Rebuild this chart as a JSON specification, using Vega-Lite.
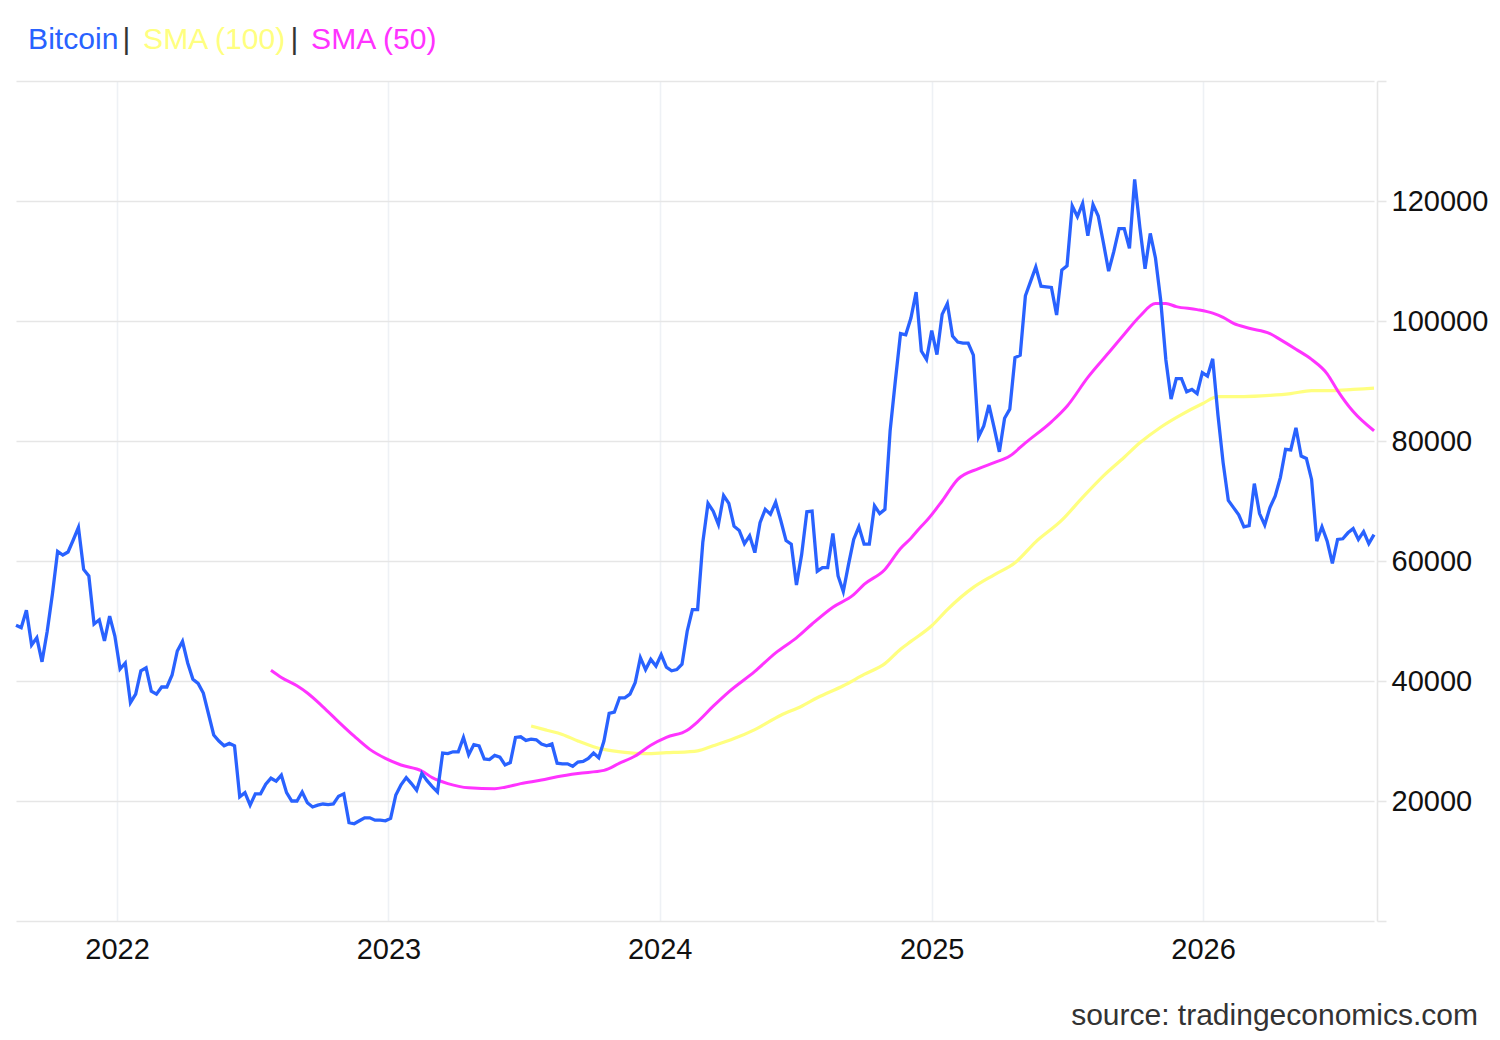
{
  "$schema": "https://vega.github.io/schema/vega-lite/v6.json",
  "width": 1358,
  "height": 840,
  "autosize": {"type": "none"},
  "padding": {"left": 16, "top": 81, "right": 126, "bottom": 119},
  "background": "white",
  "config": {"view": {"stroke": null}, "font": "Liberation Sans"},
  "title": {
    "text": "source: tradingeconomics.com",
    "orient": "bottom",
    "anchor": "end",
    "frame": "group",
    "dx": 104,
    "offset": 37,
    "fontSize": 30,
    "fontWeight": "normal",
    "font": "Liberation Sans",
    "color": "#333333"
  },
  "datasets": {
    "bitcoin": [
      {"date": "2021-08-18", "value": 49300}, {"date": "2021-08-25", "value": 48900}, {"date": "2021-09-01", "value": 51800},
      {"date": "2021-09-08", "value": 46000}, {"date": "2021-09-15", "value": 47200}, {"date": "2021-09-22", "value": 43200},
      {"date": "2021-09-29", "value": 48300}, {"date": "2021-10-06", "value": 54500}, {"date": "2021-10-13", "value": 61600},
      {"date": "2021-10-20", "value": 61000}, {"date": "2021-10-27", "value": 61500}, {"date": "2021-11-03", "value": 63500},
      {"date": "2021-11-10", "value": 65600}, {"date": "2021-11-17", "value": 58600}, {"date": "2021-11-24", "value": 57500},
      {"date": "2021-12-01", "value": 49500}, {"date": "2021-12-08", "value": 50200}, {"date": "2021-12-15", "value": 46700},
      {"date": "2021-12-22", "value": 50800}, {"date": "2021-12-29", "value": 47500}, {"date": "2022-01-05", "value": 42000},
      {"date": "2022-01-12", "value": 43000}, {"date": "2022-01-19", "value": 36400}, {"date": "2022-01-26", "value": 37800},
      {"date": "2022-02-02", "value": 41700}, {"date": "2022-02-09", "value": 42200}, {"date": "2022-02-16", "value": 38300},
      {"date": "2022-02-23", "value": 37800}, {"date": "2022-03-02", "value": 39000}, {"date": "2022-03-09", "value": 39000},
      {"date": "2022-03-16", "value": 41000}, {"date": "2022-03-23", "value": 45000}, {"date": "2022-03-30", "value": 46600},
      {"date": "2022-04-06", "value": 43000}, {"date": "2022-04-13", "value": 40300}, {"date": "2022-04-20", "value": 39600},
      {"date": "2022-04-27", "value": 38000}, {"date": "2022-05-04", "value": 34500}, {"date": "2022-05-11", "value": 31000},
      {"date": "2022-05-18", "value": 30000}, {"date": "2022-05-25", "value": 29200}, {"date": "2022-06-01", "value": 29600},
      {"date": "2022-06-08", "value": 29200}, {"date": "2022-06-15", "value": 20700}, {"date": "2022-06-22", "value": 21400},
      {"date": "2022-06-29", "value": 19300}, {"date": "2022-07-06", "value": 21200}, {"date": "2022-07-13", "value": 21200},
      {"date": "2022-07-20", "value": 22800}, {"date": "2022-07-27", "value": 23800}, {"date": "2022-08-03", "value": 23300},
      {"date": "2022-08-10", "value": 24300}, {"date": "2022-08-17", "value": 21400}, {"date": "2022-08-24", "value": 20000},
      {"date": "2022-08-31", "value": 20000}, {"date": "2022-09-07", "value": 21500}, {"date": "2022-09-14", "value": 19700},
      {"date": "2022-09-21", "value": 19000}, {"date": "2022-09-28", "value": 19300}, {"date": "2022-10-05", "value": 19500},
      {"date": "2022-10-12", "value": 19400}, {"date": "2022-10-19", "value": 19500}, {"date": "2022-10-26", "value": 20800},
      {"date": "2022-11-02", "value": 21200}, {"date": "2022-11-09", "value": 16400}, {"date": "2022-11-16", "value": 16200},
      {"date": "2022-11-23", "value": 16700}, {"date": "2022-11-30", "value": 17200}, {"date": "2022-12-07", "value": 17200},
      {"date": "2022-12-14", "value": 16800}, {"date": "2022-12-21", "value": 16800}, {"date": "2022-12-28", "value": 16700},
      {"date": "2023-01-04", "value": 17100}, {"date": "2023-01-11", "value": 21000}, {"date": "2023-01-18", "value": 22700},
      {"date": "2023-01-25", "value": 23900}, {"date": "2023-02-01", "value": 22900}, {"date": "2023-02-08", "value": 21800},
      {"date": "2023-02-15", "value": 24600}, {"date": "2023-02-22", "value": 23400}, {"date": "2023-03-01", "value": 22400},
      {"date": "2023-03-08", "value": 21500}, {"date": "2023-03-15", "value": 28000}, {"date": "2023-03-22", "value": 27900},
      {"date": "2023-03-29", "value": 28200}, {"date": "2023-04-05", "value": 28200}, {"date": "2023-04-12", "value": 30600},
      {"date": "2023-04-19", "value": 27700}, {"date": "2023-04-26", "value": 29400}, {"date": "2023-05-03", "value": 29200},
      {"date": "2023-05-10", "value": 27000}, {"date": "2023-05-17", "value": 26900}, {"date": "2023-05-24", "value": 27600},
      {"date": "2023-05-31", "value": 27300}, {"date": "2023-06-07", "value": 26000}, {"date": "2023-06-14", "value": 26400},
      {"date": "2023-06-21", "value": 30600}, {"date": "2023-06-28", "value": 30700}, {"date": "2023-07-05", "value": 30100},
      {"date": "2023-07-12", "value": 30300}, {"date": "2023-07-19", "value": 30200}, {"date": "2023-07-26", "value": 29500},
      {"date": "2023-08-02", "value": 29200}, {"date": "2023-08-09", "value": 29500}, {"date": "2023-08-16", "value": 26300},
      {"date": "2023-08-23", "value": 26200}, {"date": "2023-08-30", "value": 26200}, {"date": "2023-09-06", "value": 25800},
      {"date": "2023-09-13", "value": 26500}, {"date": "2023-09-20", "value": 26600}, {"date": "2023-09-27", "value": 27100},
      {"date": "2023-10-04", "value": 28000}, {"date": "2023-10-11", "value": 27200}, {"date": "2023-10-18", "value": 30000},
      {"date": "2023-10-25", "value": 34600}, {"date": "2023-11-01", "value": 34800}, {"date": "2023-11-08", "value": 37200},
      {"date": "2023-11-15", "value": 37200}, {"date": "2023-11-22", "value": 37800}, {"date": "2023-11-29", "value": 39700},
      {"date": "2023-12-06", "value": 43900}, {"date": "2023-12-13", "value": 41900}, {"date": "2023-12-20", "value": 43600},
      {"date": "2023-12-27", "value": 42500}, {"date": "2024-01-03", "value": 44400}, {"date": "2024-01-10", "value": 42300},
      {"date": "2024-01-17", "value": 41700}, {"date": "2024-01-24", "value": 41900}, {"date": "2024-01-31", "value": 42800},
      {"date": "2024-02-07", "value": 48300}, {"date": "2024-02-14", "value": 51900}, {"date": "2024-02-21", "value": 51900},
      {"date": "2024-02-28", "value": 63100}, {"date": "2024-03-06", "value": 69600}, {"date": "2024-03-13", "value": 68300},
      {"date": "2024-03-20", "value": 66100}, {"date": "2024-03-27", "value": 70900}, {"date": "2024-04-03", "value": 69600},
      {"date": "2024-04-10", "value": 65800}, {"date": "2024-04-17", "value": 65100}, {"date": "2024-04-24", "value": 62900},
      {"date": "2024-05-01", "value": 64200}, {"date": "2024-05-08", "value": 61400}, {"date": "2024-05-15", "value": 66400},
      {"date": "2024-05-22", "value": 68600}, {"date": "2024-05-29", "value": 67800}, {"date": "2024-06-05", "value": 69800},
      {"date": "2024-06-12", "value": 66700}, {"date": "2024-06-19", "value": 63400}, {"date": "2024-06-26", "value": 62800},
      {"date": "2024-07-03", "value": 56000}, {"date": "2024-07-10", "value": 61100}, {"date": "2024-07-17", "value": 68200},
      {"date": "2024-07-24", "value": 68300}, {"date": "2024-07-31", "value": 58300}, {"date": "2024-08-07", "value": 58900},
      {"date": "2024-08-14", "value": 58900}, {"date": "2024-08-21", "value": 64600}, {"date": "2024-08-28", "value": 57500},
      {"date": "2024-09-04", "value": 54900}, {"date": "2024-09-11", "value": 59400}, {"date": "2024-09-18", "value": 63600},
      {"date": "2024-09-25", "value": 65700}, {"date": "2024-10-02", "value": 62800}, {"date": "2024-10-09", "value": 62800},
      {"date": "2024-10-16", "value": 69200}, {"date": "2024-10-23", "value": 67900}, {"date": "2024-10-30", "value": 68600},
      {"date": "2024-11-06", "value": 81700}, {"date": "2024-11-13", "value": 90000}, {"date": "2024-11-20", "value": 97900},
      {"date": "2024-11-27", "value": 97700}, {"date": "2024-12-04", "value": 100500}, {"date": "2024-12-11", "value": 104800},
      {"date": "2024-12-18", "value": 95000}, {"date": "2024-12-25", "value": 93600}, {"date": "2025-01-01", "value": 98400},
      {"date": "2025-01-08", "value": 94400}, {"date": "2025-01-15", "value": 101100}, {"date": "2025-01-22", "value": 102900},
      {"date": "2025-01-29", "value": 97500}, {"date": "2025-02-05", "value": 96500}, {"date": "2025-02-12", "value": 96300},
      {"date": "2025-02-19", "value": 96300}, {"date": "2025-02-26", "value": 94300}, {"date": "2025-03-05", "value": 80700},
      {"date": "2025-03-12", "value": 82500}, {"date": "2025-03-19", "value": 86000}, {"date": "2025-03-26", "value": 82200},
      {"date": "2025-04-02", "value": 78200}, {"date": "2025-04-09", "value": 83800}, {"date": "2025-04-16", "value": 85300},
      {"date": "2025-04-23", "value": 93900}, {"date": "2025-04-30", "value": 94300}, {"date": "2025-05-07", "value": 104200},
      {"date": "2025-05-14", "value": 106600}, {"date": "2025-05-21", "value": 109000}, {"date": "2025-05-28", "value": 105800},
      {"date": "2025-06-04", "value": 105700}, {"date": "2025-06-11", "value": 105600}, {"date": "2025-06-18", "value": 101000},
      {"date": "2025-06-25", "value": 108500}, {"date": "2025-07-02", "value": 109200}, {"date": "2025-07-09", "value": 119200},
      {"date": "2025-07-16", "value": 117400}, {"date": "2025-07-23", "value": 119600}, {"date": "2025-07-30", "value": 114200},
      {"date": "2025-08-06", "value": 119400}, {"date": "2025-08-13", "value": 117500}, {"date": "2025-08-20", "value": 113000},
      {"date": "2025-08-27", "value": 108300}, {"date": "2025-09-03", "value": 111600}, {"date": "2025-09-10", "value": 115400},
      {"date": "2025-09-17", "value": 115400}, {"date": "2025-09-24", "value": 112100}, {"date": "2025-10-01", "value": 123600},
      {"date": "2025-10-08", "value": 115600}, {"date": "2025-10-15", "value": 108700}, {"date": "2025-10-22", "value": 114600},
      {"date": "2025-10-29", "value": 110500}, {"date": "2025-11-05", "value": 103500}, {"date": "2025-11-12", "value": 93500},
      {"date": "2025-11-19", "value": 87000}, {"date": "2025-11-26", "value": 90400}, {"date": "2025-12-03", "value": 90400},
      {"date": "2025-12-10", "value": 88200}, {"date": "2025-12-17", "value": 88600}, {"date": "2025-12-24", "value": 87900},
      {"date": "2025-12-31", "value": 91400}, {"date": "2026-01-07", "value": 90800}, {"date": "2026-01-14", "value": 93700},
      {"date": "2026-01-21", "value": 84400}, {"date": "2026-01-28", "value": 76400}, {"date": "2026-02-04", "value": 70100},
      {"date": "2026-02-11", "value": 68900}, {"date": "2026-02-18", "value": 67700}, {"date": "2026-02-25", "value": 65700},
      {"date": "2026-03-04", "value": 65900}, {"date": "2026-03-11", "value": 72900}, {"date": "2026-03-18", "value": 67900},
      {"date": "2026-03-25", "value": 66000}, {"date": "2026-04-01", "value": 68900}, {"date": "2026-04-08", "value": 70800},
      {"date": "2026-04-15", "value": 73900}, {"date": "2026-04-22", "value": 78600}, {"date": "2026-04-29", "value": 78500},
      {"date": "2026-05-06", "value": 82200}, {"date": "2026-05-13", "value": 77500}, {"date": "2026-05-20", "value": 77100},
      {"date": "2026-05-27", "value": 73600}, {"date": "2026-06-03", "value": 63300}, {"date": "2026-06-10", "value": 65700},
      {"date": "2026-06-17", "value": 63300}, {"date": "2026-06-24", "value": 59600}, {"date": "2026-07-01", "value": 63600},
      {"date": "2026-07-08", "value": 63700}, {"date": "2026-07-15", "value": 64700}, {"date": "2026-07-22", "value": 65400},
      {"date": "2026-07-29", "value": 63600}, {"date": "2026-08-05", "value": 64900}, {"date": "2026-08-12", "value": 62900},
      {"date": "2026-08-19", "value": 64400}
    ],
    "sma50": [
      {"date": "2022-07-27", "value": 41800}, {"date": "2022-08-10", "value": 40600}, {"date": "2022-08-31", "value": 39200},
      {"date": "2022-09-14", "value": 38000}, {"date": "2022-10-05", "value": 35700}, {"date": "2022-10-26", "value": 33200},
      {"date": "2022-11-16", "value": 30800}, {"date": "2022-12-07", "value": 28600}, {"date": "2022-12-28", "value": 27100},
      {"date": "2023-01-18", "value": 26000}, {"date": "2023-02-15", "value": 25000}, {"date": "2023-03-01", "value": 23900},
      {"date": "2023-03-22", "value": 22900}, {"date": "2023-04-19", "value": 22200}, {"date": "2023-05-24", "value": 22050},
      {"date": "2023-06-07", "value": 22300}, {"date": "2023-06-28", "value": 22900}, {"date": "2023-07-26", "value": 23500},
      {"date": "2023-08-16", "value": 24050}, {"date": "2023-09-13", "value": 24600}, {"date": "2023-10-18", "value": 25100},
      {"date": "2023-11-08", "value": 26300}, {"date": "2023-11-29", "value": 27500}, {"date": "2023-12-20", "value": 29300},
      {"date": "2024-01-10", "value": 30600}, {"date": "2024-02-07", "value": 31800}, {"date": "2024-02-21", "value": 33200},
      {"date": "2024-03-13", "value": 35800}, {"date": "2024-04-03", "value": 38200}, {"date": "2024-05-08", "value": 41600},
      {"date": "2024-06-05", "value": 44700}, {"date": "2024-07-03", "value": 47200}, {"date": "2024-07-24", "value": 49500},
      {"date": "2024-08-21", "value": 52300}, {"date": "2024-09-18", "value": 54400}, {"date": "2024-10-02", "value": 56100},
      {"date": "2024-10-30", "value": 58600}, {"date": "2024-11-20", "value": 62100}, {"date": "2024-12-04", "value": 63800},
      {"date": "2024-12-18", "value": 65800}, {"date": "2024-12-25", "value": 66700}, {"date": "2025-01-15", "value": 70000},
      {"date": "2025-02-05", "value": 73600}, {"date": "2025-03-05", "value": 75400}, {"date": "2025-03-26", "value": 76400},
      {"date": "2025-04-16", "value": 77500}, {"date": "2025-05-07", "value": 79700}, {"date": "2025-06-11", "value": 83200},
      {"date": "2025-07-02", "value": 85800}, {"date": "2025-07-30", "value": 90600}, {"date": "2025-08-27", "value": 94700},
      {"date": "2025-09-17", "value": 97800}, {"date": "2025-10-08", "value": 100800}, {"date": "2025-10-29", "value": 102900},
      {"date": "2025-11-12", "value": 102900}, {"date": "2025-11-26", "value": 102400}, {"date": "2025-12-24", "value": 101900},
      {"date": "2026-01-14", "value": 101300}, {"date": "2026-01-28", "value": 100600}, {"date": "2026-02-11", "value": 99600},
      {"date": "2026-03-04", "value": 98800}, {"date": "2026-04-01", "value": 97900}, {"date": "2026-04-15", "value": 96900},
      {"date": "2026-05-06", "value": 95300}, {"date": "2026-05-27", "value": 93600}, {"date": "2026-06-17", "value": 91200},
      {"date": "2026-07-01", "value": 88400}, {"date": "2026-07-22", "value": 84900}, {"date": "2026-08-19", "value": 81700}
    ],
    "sma100": [
      {"date": "2023-07-12", "value": 32500}, {"date": "2023-08-02", "value": 31800}, {"date": "2023-08-23", "value": 31100},
      {"date": "2023-09-13", "value": 30000}, {"date": "2023-10-04", "value": 29050}, {"date": "2023-10-18", "value": 28600},
      {"date": "2023-11-15", "value": 28100}, {"date": "2023-12-13", "value": 27900}, {"date": "2024-01-10", "value": 28050},
      {"date": "2024-02-07", "value": 28200}, {"date": "2024-02-21", "value": 28350}, {"date": "2024-03-13", "value": 29200},
      {"date": "2024-04-10", "value": 30400}, {"date": "2024-05-08", "value": 31900}, {"date": "2024-06-12", "value": 34300},
      {"date": "2024-07-10", "value": 35800}, {"date": "2024-07-31", "value": 37200}, {"date": "2024-09-04", "value": 39200},
      {"date": "2024-10-02", "value": 41100}, {"date": "2024-10-30", "value": 42900}, {"date": "2024-11-20", "value": 45300},
      {"date": "2024-12-04", "value": 46600}, {"date": "2025-01-01", "value": 49200}, {"date": "2025-01-22", "value": 51900},
      {"date": "2025-02-26", "value": 55600}, {"date": "2025-03-26", "value": 57700}, {"date": "2025-04-23", "value": 59700},
      {"date": "2025-05-21", "value": 63200}, {"date": "2025-06-25", "value": 66800}, {"date": "2025-07-23", "value": 70600},
      {"date": "2025-08-20", "value": 74200}, {"date": "2025-09-17", "value": 77300}, {"date": "2025-10-08", "value": 79700},
      {"date": "2025-11-05", "value": 82300}, {"date": "2025-12-03", "value": 84400}, {"date": "2025-12-31", "value": 86200},
      {"date": "2026-01-21", "value": 87400}, {"date": "2026-02-25", "value": 87400}, {"date": "2026-04-01", "value": 87600},
      {"date": "2026-04-29", "value": 87900}, {"date": "2026-05-27", "value": 88400}, {"date": "2026-06-24", "value": 88400},
      {"date": "2026-07-22", "value": 88600}, {"date": "2026-08-19", "value": 88800}
    ]
  },
  "encoding": {
    "x": {
      "field": "date",
      "type": "temporal",
      "title": null,
      "scale": {"nice": false},
      "axis": {
        "format": "%Y",
        "tickCount": {"interval": "year", "step": 1},
        "grid": true,
        "gridColor": "#eef1f5",
        "gridWidth": 1.6,
        "domain": false,
        "ticks": false,
        "tickSize": 0,
        "labelPadding": 14,
        "labelFontSize": 29,
        "labelFont": "Liberation Sans",
        "labelColor": "#111111"
      }
    },
    "y": {
      "field": "value",
      "type": "quantitative",
      "title": null,
      "scale": {"domain": [0, 140000], "nice": false},
      "axis": {
        "orient": "right",
        "offset": 3,
        "values": [0, 20000, 40000, 60000, 80000, 100000, 120000, 140000],
        "format": "d",
        "labelExpr": "datum.value == 0 || datum.value == 140000 ? '' : datum.label",
        "grid": true,
        "gridColor": "#e6e6e6",
        "gridWidth": 1.6,
        "domainColor": "#e6e6e6",
        "domainWidth": 1.6,
        "tickColor": "#e6e6e6",
        "tickWidth": 1.6,
        "tickSize": 9,
        "labelPadding": 5,
        "labelFontSize": 29,
        "labelFont": "Liberation Sans",
        "labelColor": "#111111"
      }
    }
  },
  "layer": [
    {
      "data": {"name": "sma100"},
      "mark": {"type": "line", "strokeWidth": 3.2, "interpolate": "monotone"},
      "encoding": {
        "color": {
          "datum": "SMA (100)",
          "type": "nominal",
          "scale": {
            "domain": ["Bitcoin", "sep1", "SMA (100)", "sep2", "SMA (50)"],
            "range": ["#2962ff", "#333333", "#ffff80", "#333333", "#ff33ff"]
          },
          "legend": {
            "orient": "none",
            "legendX": 29,
            "legendY": -56,
            "direction": "horizontal",
            "title": null,
            "padding": 0,
            "symbolType": "circle",
            "symbolSize": 0,
            "symbolStrokeWidth": 0,
            "symbolOpacity": 0,
            "symbolOffset": -16,
            "labelOffset": -31,
            "columnPadding": 3.5,
            "labelFontSize": 30.1,
            "labelFont": "Liberation Sans",
            "labelLimit": 0,
            "labelColor": {"expr": "scale('color', datum.value)"},
            "labelExpr": "indexof(datum.label, 'sep') == 0 ? '|' : datum.label"
          }
        }
      }
    },
    {
      "data": {"name": "sma50"},
      "mark": {"type": "line", "strokeWidth": 3, "interpolate": "monotone"},
      "encoding": {"color": {"datum": "SMA (50)", "type": "nominal"}}
    },
    {
      "data": {"name": "bitcoin"},
      "mark": {"type": "line", "strokeWidth": 3.3},
      "encoding": {"color": {"datum": "Bitcoin", "type": "nominal"}}
    }
  ]
}
